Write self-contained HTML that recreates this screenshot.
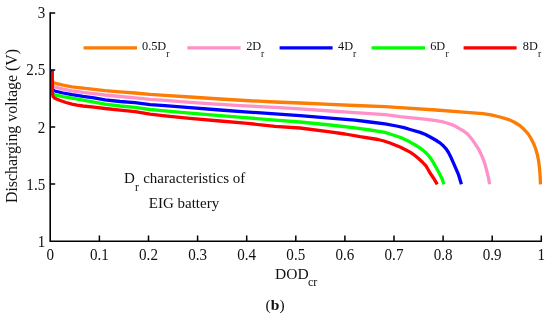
<!DOCTYPE html>
<html><head><meta charset="utf-8"><title>Discharging voltage vs DOD</title>
<style>
html,body{margin:0;padding:0;background:#fff;}
body{width:550px;height:318px;overflow:hidden;}
svg{display:block;}
text{font-family:"Liberation Serif","Times New Roman",serif;fill:#111;}
.t{font-size:15.5px;}
.l{font-size:12.3px;}
.s{font-size:9.6px;}
.k{font-size:16.4px;}
</style></head><body>
<svg width="550" height="318" viewBox="0 0 550 318">
<rect width="550" height="318" fill="#fff"/>
<path d="M51.9 70.3 L52.1 79.0 L52.8 81.8 L54.6 83.2 L63.0 85.2 L72.0 86.8 L83.0 88.2 L94.0 89.4 L105.0 90.6 L120.0 91.9 L135.0 93.0 L150.0 94.4 L165.0 95.4 L190.0 97.0 L220.0 99.0 L245.0 100.5 L275.0 102.0 L300.0 103.0 L330.0 104.4 L355.0 105.5 L385.0 106.7 L400.0 107.6 L436.0 110.0 L460.0 111.8 L473.0 112.8 L483.0 113.6 L491.0 114.8 L500.0 117.0 L508.0 119.3 L514.0 122.0 L519.7 125.5 L524.0 129.3 L528.2 134.0 L531.0 138.5 L533.8 143.9 L535.8 149.3 L537.5 155.2 L538.6 161.0 L539.5 168.0 L540.1 176.0 L540.5 184.3" fill="none" stroke="#fc7c04" stroke-width="3.3" stroke-linejoin="round" stroke-linecap="butt"/>
<path d="M51.9 70.3 L52.1 83.0 L52.8 85.8 L54.6 87.0 L63.0 89.2 L72.0 90.9 L83.0 92.4 L94.0 93.6 L105.0 95.0 L120.0 96.5 L135.0 97.8 L150.0 99.3 L165.0 100.4 L190.0 102.3 L220.0 104.3 L245.0 105.8 L275.0 107.4 L300.0 108.8 L330.0 111.0 L355.0 112.6 L385.0 114.6 L400.0 116.6 L414.7 118.2 L427.0 119.3 L436.0 120.6 L442.0 121.7 L447.0 123.0 L451.0 124.4 L455.0 126.0 L459.4 128.6 L464.0 131.2 L468.0 134.4 L472.5 140.1 L475.5 144.4 L478.5 149.1 L481.2 154.5 L483.6 160.2 L485.2 165.0 L486.6 170.2 L488.6 178.3 L489.6 184.3" fill="none" stroke="#ff91c8" stroke-width="3.3" stroke-linejoin="round" stroke-linecap="butt"/>
<path d="M51.9 70.3 L52.1 87.0 L52.8 90.0 L54.6 91.0 L63.0 93.0 L72.0 94.7 L83.0 96.4 L94.0 97.8 L105.0 99.8 L120.0 101.5 L135.0 102.7 L150.0 104.6 L165.0 105.7 L190.0 107.6 L220.0 110.0 L245.0 111.8 L275.0 113.8 L300.0 115.6 L330.0 118.1 L355.0 120.2 L370.0 122.0 L385.0 123.8 L396.5 126.0 L404.0 127.7 L410.1 129.5 L420.2 132.4 L425.5 134.5 L430.2 137.0 L435.5 140.0 L440.3 143.1 L443.5 146.0 L446.3 149.1 L448.5 152.5 L450.4 156.2 L454.4 165.2 L458.4 174.3 L461.4 184.3" fill="none" stroke="#0000ff" stroke-width="3.3" stroke-linejoin="round" stroke-linecap="butt"/>
<path d="M51.9 70.3 L52.1 90.5 L52.8 93.8 L54.6 94.8 L63.0 96.7 L72.0 98.2 L83.0 100.2 L94.0 102.1 L105.0 104.2 L120.0 106.0 L135.0 107.4 L150.0 109.5 L165.0 110.8 L190.0 113.1 L220.0 115.6 L245.0 117.6 L275.0 120.1 L300.0 122.0 L330.0 125.0 L355.0 127.8 L370.0 130.0 L385.0 132.4 L390.0 134.0 L400.0 137.3 L405.0 139.6 L410.1 142.1 L415.3 145.0 L420.2 148.1 L424.5 151.5 L428.2 155.2 L431.5 159.5 L434.3 164.2 L439.3 173.3 L442.3 179.3 L443.9 184.3" fill="none" stroke="#00ff00" stroke-width="3.3" stroke-linejoin="round" stroke-linecap="butt"/>
<path d="M52.2 70.6 L52.4 93.3 L53.1 96.6 L54.8 98.2 L57.0 99.3 L61.0 100.8 L66.0 102.5 L72.0 104.1 L77.0 105.2 L83.0 106.0 L94.0 107.2 L105.0 108.5 L120.0 110.2 L135.0 111.6 L150.0 114.2 L165.0 115.9 L190.0 118.3 L220.0 121.0 L245.0 123.1 L275.0 126.3 L300.0 128.0 L330.0 131.9 L345.0 134.0 L360.0 136.7 L378.0 139.5 L384.0 141.0 L390.0 143.0 L395.0 145.0 L400.0 147.1 L405.0 149.5 L410.1 152.1 L414.3 155.0 L418.2 158.2 L422.3 162.0 L426.2 166.2 L430.2 173.3 L434.3 179.3 L437.3 184.3" fill="none" stroke="#ff0000" stroke-width="3.3" stroke-linejoin="round" stroke-linecap="butt"/>
<path d="M50.2 12.3 V241.2 H542" fill="none" stroke="#000" stroke-width="1.6"/>
<path d="M99.4 241.3 V235.6 M148.5 241.3 V235.6 M197.6 241.3 V235.6 M246.7 241.3 V235.6 M295.8 241.3 V235.6 M344.9 241.3 V235.6 M394.0 241.3 V235.6 M443.1 241.3 V235.6 M492.2 241.3 V235.6 M541.3 241.3 V235.6 M50.3 184.1 H55.2 M50.3 127.1 H55.2 M50.3 70.0 H55.2 M50.3 12.9 H55.2 " fill="none" stroke="#000" stroke-width="1.5"/>
<rect x="50.6" y="69.6" width="1.5" height="2" fill="#0000ff"/>
<text class="k" transform="translate(50.3 260.2) scale(0.92 1)" text-anchor="middle">0</text>
<text class="k" transform="translate(99.4 260.2) scale(0.92 1)" text-anchor="middle">0.1</text>
<text class="k" transform="translate(148.5 260.2) scale(0.92 1)" text-anchor="middle">0.2</text>
<text class="k" transform="translate(197.6 260.2) scale(0.92 1)" text-anchor="middle">0.3</text>
<text class="k" transform="translate(246.7 260.2) scale(0.92 1)" text-anchor="middle">0.4</text>
<text class="k" transform="translate(295.8 260.2) scale(0.92 1)" text-anchor="middle">0.5</text>
<text class="k" transform="translate(344.9 260.2) scale(0.92 1)" text-anchor="middle">0.6</text>
<text class="k" transform="translate(394.0 260.2) scale(0.92 1)" text-anchor="middle">0.7</text>
<text class="k" transform="translate(443.1 260.2) scale(0.92 1)" text-anchor="middle">0.8</text>
<text class="k" transform="translate(492.2 260.2) scale(0.92 1)" text-anchor="middle">0.9</text>
<text class="k" transform="translate(541.3 260.2) scale(0.92 1)" text-anchor="middle">1</text>
<text class="k" transform="translate(45.2 246.6) scale(0.92 1)" text-anchor="end">1</text>
<text class="k" transform="translate(45.2 189.5) scale(0.92 1)" text-anchor="end">1.5</text>
<text class="k" transform="translate(45.2 132.5) scale(0.92 1)" text-anchor="end">2</text>
<text class="k" transform="translate(45.2 75.4) scale(0.92 1)" text-anchor="end">2.5</text>
<text class="k" transform="translate(45.2 18.3) scale(0.92 1)" text-anchor="end">3</text>
<path d="M83.6 47.9 H137.0" stroke="#fc7c04" stroke-width="3.4" fill="none"/>
<text class="l" x="142.0" y="50.2">0.5D</text><text class="s" x="166.3" y="56.5">r</text>
<path d="M187.4 47.9 H240.6" stroke="#ff91c8" stroke-width="3.4" fill="none"/>
<text class="l" x="246.2" y="50.2">2D</text><text class="s" x="261.0" y="56.5">r</text>
<path d="M279.6 47.9 H332.6" stroke="#0000ff" stroke-width="3.4" fill="none"/>
<text class="l" x="338.0" y="50.2">4D</text><text class="s" x="353.0" y="56.5">r</text>
<path d="M371.6 47.9 H425.0" stroke="#00ff00" stroke-width="3.4" fill="none"/>
<text class="l" x="430.2" y="50.2">6D</text><text class="s" x="445.5" y="56.5">r</text>
<path d="M463.6 47.9 H516.6" stroke="#ff0000" stroke-width="3.4" fill="none"/>
<text class="l" x="522.8" y="50.2">8D</text><text class="s" x="538.0" y="56.5">r</text>
<text class="t" transform="translate(17.2 126) rotate(-90)" text-anchor="middle" style="font-size:15.9px">Discharging voltage (V)</text>
<text class="t" x="275" y="278.7">DOD</text><text x="308" y="286.1" style="font-size:12px">cr</text>
<text class="t" x="265.6" y="309.5">(<tspan font-weight="bold">b</tspan>)</text>
<text class="t" x="124" y="182.7" style="font-size:15px">D</text><text class="s" x="135" y="190.6" style="font-size:11.5px">r</text><text class="t" x="143.2" y="182.7" style="font-size:15px">characteristics of</text>
<text class="t" x="148.8" y="207.8" style="font-size:15px">EIG battery</text>
</svg></body></html>
